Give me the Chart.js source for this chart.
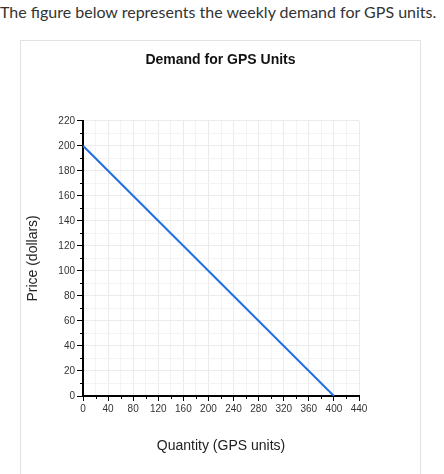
<!DOCTYPE html>
<html>
<head>
<meta charset="utf-8">
<script src="https://cdn.jsdelivr.net/npm/chart.js@4"></script>
<style>
  body { margin: 0; background: #fff; width: 444px; height: 474px; overflow: hidden; position: relative; }
  #intro { position: absolute; left: 0; top: 2px; font-family: "Lato", sans-serif; font-size: 16px; color: #333; white-space: nowrap; }
  #panel { position: absolute; left: 20px; top: 40px; width: 399px; height: 440px; border: 1px solid #e2e2e2; }
  #demandChart { display: block; }
</style>
</head>
<body>
<div id="intro">The figure below represents the weekly demand for GPS units.</div>
<div id="panel"><canvas id="demandChart" width="399" height="433"></canvas></div>
<script>
// 需求曲線資料
const quantity = [0, 400];
const price = [200, 0];

// 軸設定
const xMax = 440, xStep = 20, xLabelEvery = 40;
const yMax = 220, yStep = 10, yLabelEvery = 20;

const chartTitle = 'Demand for GPS Units';
const xTitle = 'Quantity (GPS units)';
const yTitle = 'Price (dollars)';

const points = quantity.map((q, i) => ({ x: q, y: price[i] }));

// 小刻度 (未標示數字的刻度) 用較短的線畫出
const minorTicks = {
    id: 'minorTicks',
    afterDatasetsDraw(chart) {
        const c = chart.ctx;
        const xs = chart.scales.x, ys = chart.scales.y;
        c.save();
        c.strokeStyle = '#000';
        c.lineWidth = 1;
        c.beginPath();
        for (let v = 0; v <= xMax; v += xStep) {
            if (v % xLabelEvery === 0) continue;
            const px = Math.round(xs.getPixelForValue(v)) + 0.5;
            c.moveTo(px, ys.bottom);
            c.lineTo(px, ys.bottom + 3);
        }
        for (let v = 0; v <= yMax; v += yStep) {
            if (v % yLabelEvery === 0) continue;
            const py = Math.round(ys.getPixelForValue(v)) + 0.5;
            c.moveTo(xs.left, py);
            c.lineTo(xs.left - 3, py);
        }
        c.stroke();
        c.restore();
    }
};

const ctx = document.getElementById('demandChart').getContext('2d');
const demandChart = new Chart(ctx, {
    type: 'scatter',
    data: {
        datasets: [{
            label: 'Demand',
            data: points,
            showLine: true,
            borderColor: '#1f6fe5',
            borderWidth: 2,
            pointRadius: 0,
            fill: false
        }]
    },
    options: {
        responsive: false,
        animation: false,
        layout: { padding: 0 },
        plugins: {
            legend: { display: false },
            tooltip: { enabled: false },
            title: {
                display: true,
                text: chartTitle,
                color: '#111',
                font: { family: 'Liberation Sans', size: 14, weight: 'bold' },
                padding: { top: 11, bottom: 52 }
            }
        },
        scales: {
            x: {
                type: 'linear',
                min: 0,
                max: xMax,
                afterFit(scale) { scale.height = 78; },
                border: { color: '#000', width: 2 },
                grid: {
                    color: (c) => c.tick.value % xLabelEvery === 0 ? '#ebebeb' : '#f4f4f4',
                    tickColor: (c) => c.tick.value % xLabelEvery === 0 ? '#000' : 'rgba(0,0,0,0)',
                    tickLength: 5
                },
                ticks: {
                    stepSize: xStep,
                    autoSkip: false,
                    maxRotation: 0,
                    padding: 2,
                    color: '#333',
                    font: { family: 'Liberation Sans', size: 10 },
                    callback: (v) => v % xLabelEvery === 0 ? String(v) : ''
                },
                title: {
                    display: true,
                    text: xTitle,
                    color: '#222',
                    font: { family: 'Liberation Sans', size: 14 },
                    padding: { top: 0, bottom: 19 }
                }
            },
            y: {
                type: 'linear',
                min: 0,
                max: yMax,
                afterFit(scale) { scale.width = 62; },
                border: { color: '#000', width: 2 },
                grid: {
                    color: (c) => c.tick.value % yLabelEvery === 0 ? '#ebebeb' : '#f4f4f4',
                    tickColor: (c) => c.tick.value % yLabelEvery === 0 ? '#000' : 'rgba(0,0,0,0)',
                    tickLength: 6
                },
                ticks: {
                    stepSize: yStep,
                    autoSkip: false,
                    padding: 2,
                    color: '#333',
                    font: { family: 'Liberation Sans', size: 10 },
                    callback: (v) => v % yLabelEvery === 0 ? String(v) : ''
                },
                title: {
                    display: true,
                    text: yTitle,
                    color: '#222',
                    font: { family: 'Liberation Sans', size: 14 },
                    padding: { top: 4, bottom: 0 }
                }
            },
            // 右側留白用的空軸
            yRight: {
                type: 'linear',
                position: 'right',
                min: 0,
                max: yMax,
                afterFit(scale) { scale.width = 61; },
                border: { display: false },
                grid: { display: false },
                ticks: { display: false }
            }
        }
    },
    plugins: [minorTicks]
});
</script>
</body>
</html>
